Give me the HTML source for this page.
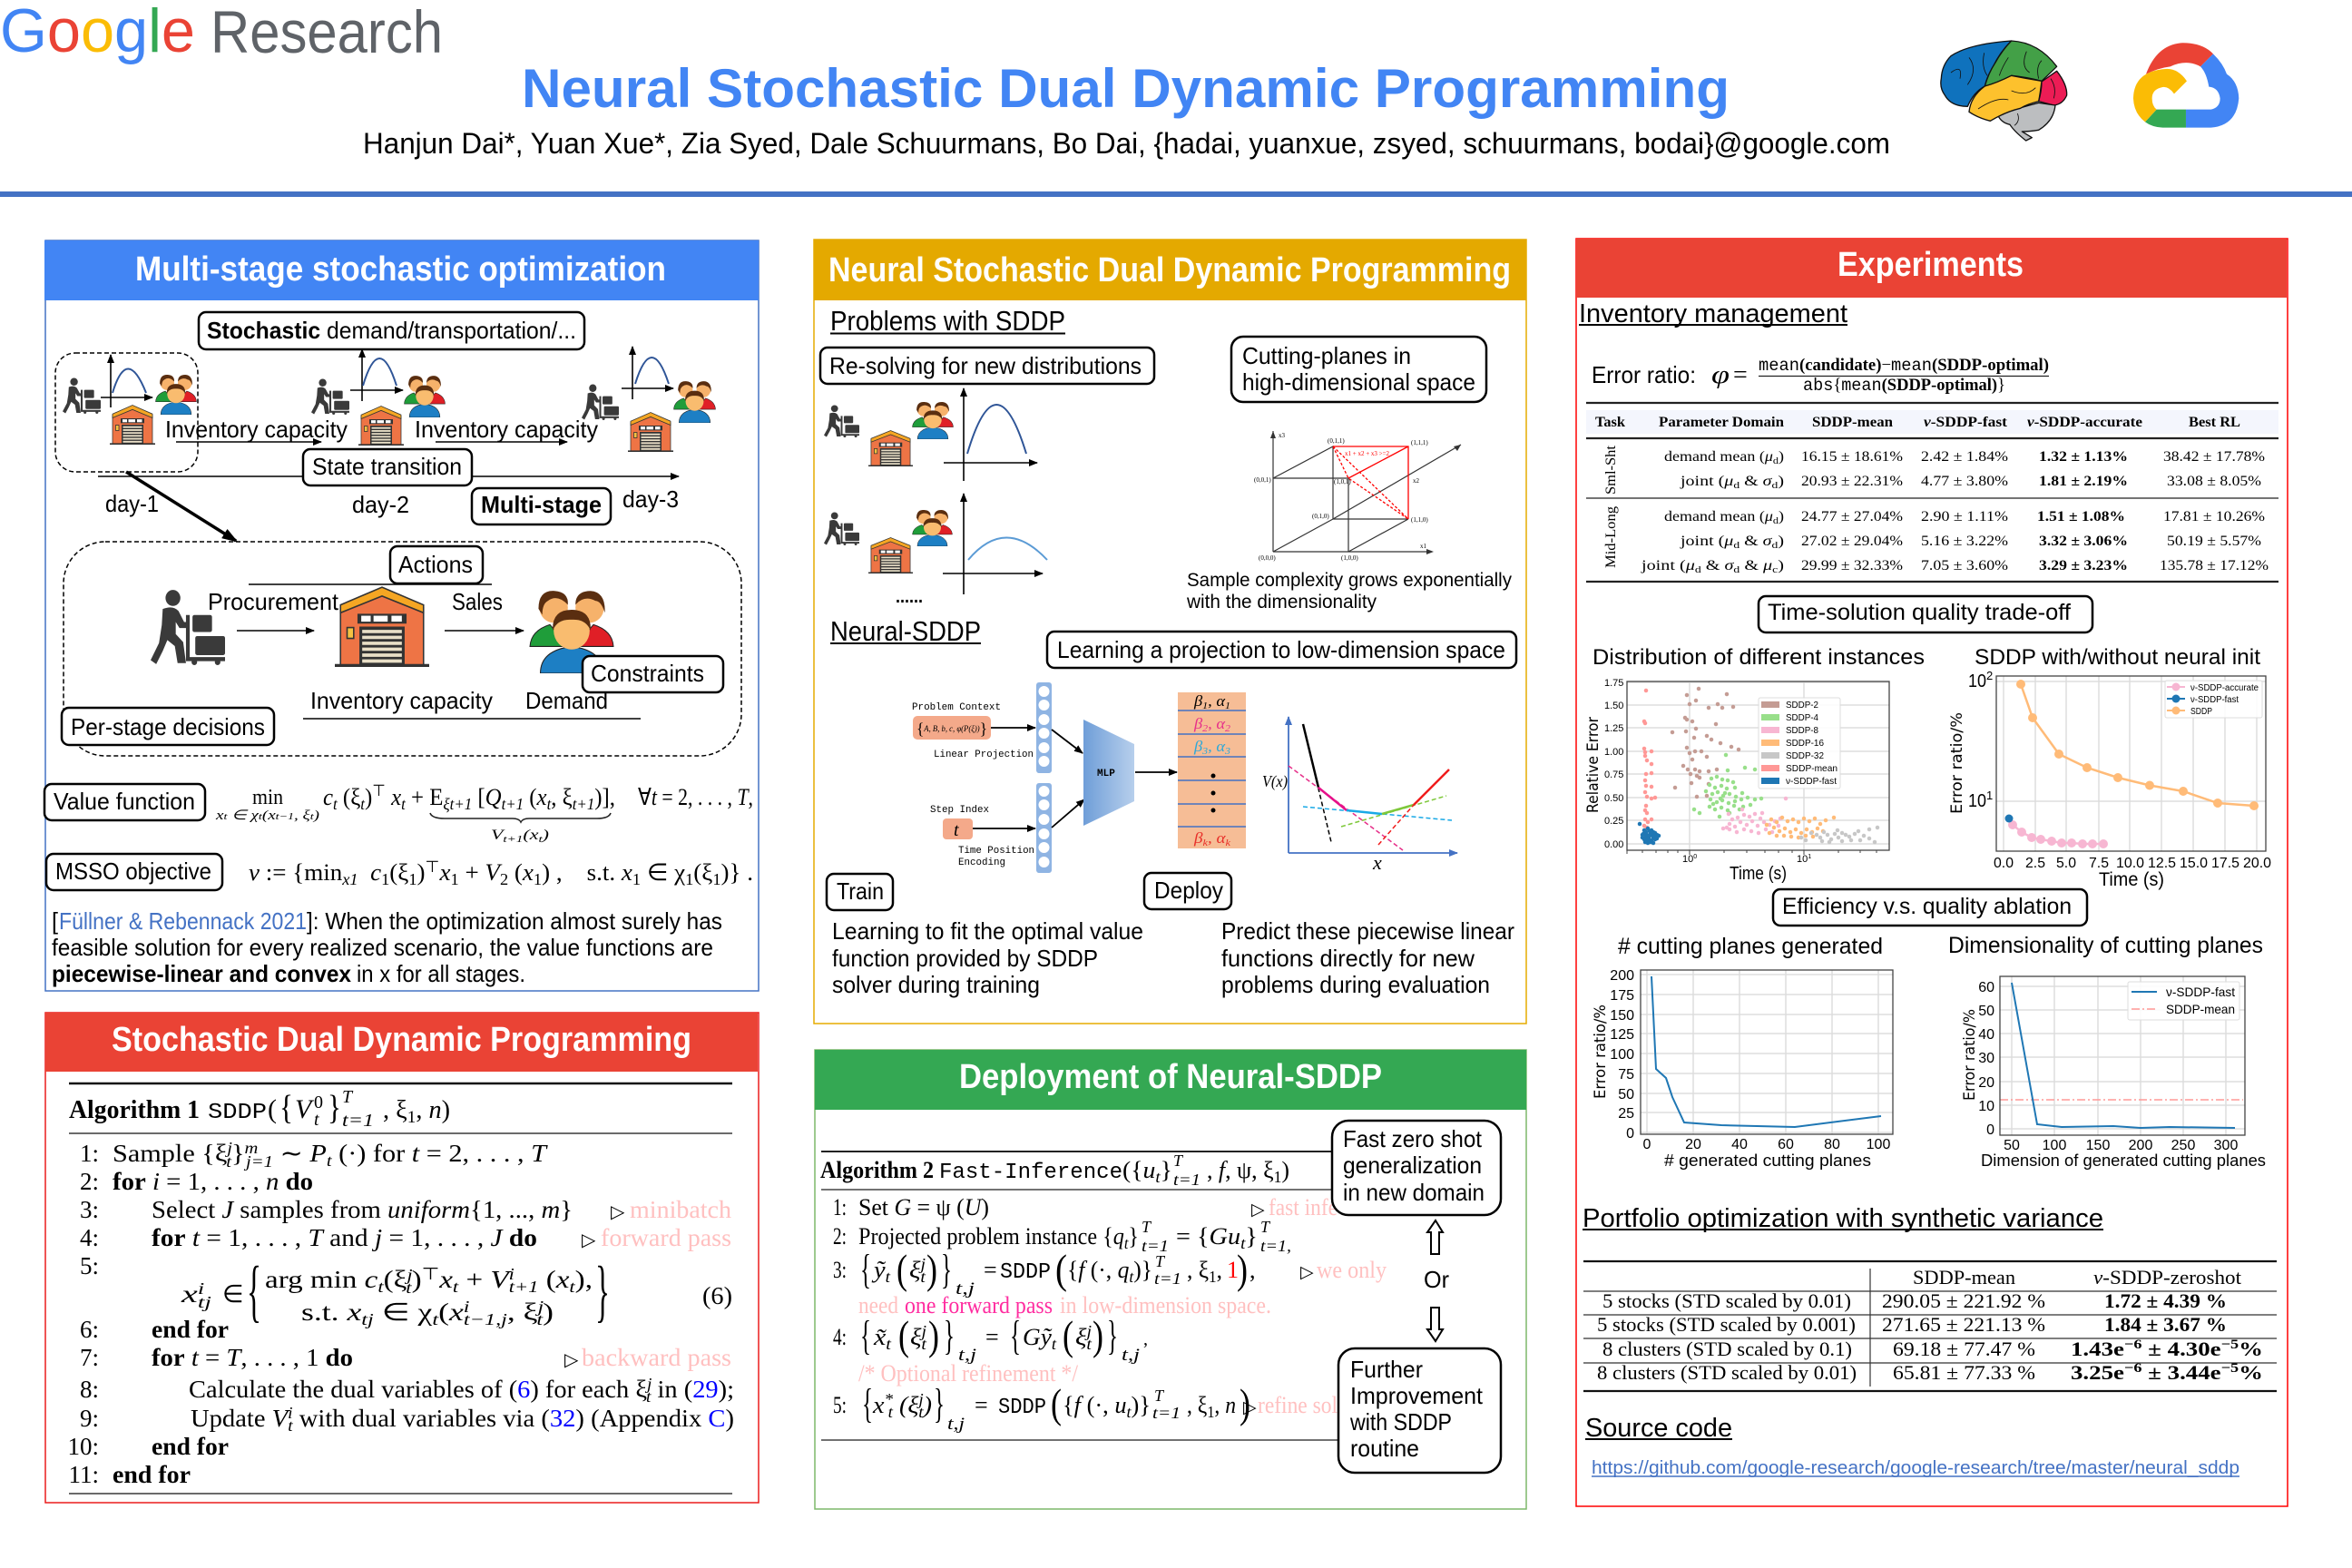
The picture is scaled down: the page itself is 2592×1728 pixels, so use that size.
<!DOCTYPE html>
<html><head><meta charset="utf-8"><title>Neural Stochastic Dual Dynamic Programming</title>
<style>
html,body{margin:0;padding:0;background:#fff}
svg{display:block;font-size:27px}
text{font-family:"Liberation Sans",sans-serif;fill:#000;white-space:pre}
.t{font-size:26px}
.h{font-weight:bold;fill:#fff;font-size:38px}
.r,.r text{font-family:"Liberation Serif",serif}
.a{font-family:"Liberation Serif",serif}
.b{font-weight:bold}
.i{font-style:italic}
.m{font-family:"Liberation Mono",monospace}
.u{font-size:.68em}
.p{fill:#ffc0c0}
.bx{fill:#fff;stroke:#000;stroke-width:2.5}
.l{stroke:#000;stroke-width:1.6;fill:none}
.g{stroke:#ddd;stroke-width:1.5}
.d{font-size:7px;font-family:"Liberation Serif",serif}
.cap{font-size:24.5px}
.ax{font-size:17px;font-family:"DejaVu Sans",sans-serif}
.tb{font-family:"Liberation Serif",serif;font-size:16px}
.tc{font-family:"Liberation Serif",serif;font-size:22px}
</style></head><body>
<svg xmlns="http://www.w3.org/2000/svg" width="2592" height="1728" viewBox="0 0 2592 1728">
<defs>
<marker id="a" markerWidth="10" markerHeight="8" refX="9" refY="4" orient="auto" markerUnits="userSpaceOnUse"><path d="M0 0L10 4L0 8z" fill="#000"/></marker>
<marker id="ab" markerWidth="18" markerHeight="12" refX="15" refY="6" orient="auto" markerUnits="userSpaceOnUse"><path d="M0 0L18 6L0 12z" fill="#000"/></marker>
<marker id="ac" markerWidth="10" markerHeight="8" refX="9" refY="4" orient="auto" markerUnits="userSpaceOnUse"><path d="M0 0L10 4L0 8z" fill="#4472c4"/></marker>
<linearGradient id="mlp" x1="0" x2="1" y1="0" y2="0"><stop offset="0" stop-color="#6f9ed8"/><stop offset="1" stop-color="#b7cfec"/></linearGradient>
<symbol id="wk" viewBox="0 0 80 76" preserveAspectRatio="none"><g fill="#3a3a3a"><circle cx="24" cy="9" r="8"/><path d="M13 20Q24 16 30 22L36 33H40V39H31L27 33V45L35 53L38 74H29L26 57L18 51L13 62L6 75L0 71L9 54L12 36z"/><rect x="45" y="26" width="21" height="17" rx="2"/><rect x="48" y="47" width="32" height="19" rx="2"/><path d="M38 26H42V68H80V72H38z"/><circle cx="47" cy="73" r="3"/><circle cx="72" cy="73" r="3"/></g></symbol>
<symbol id="wh" viewBox="0 0 100 82" preserveAspectRatio="none"><path d="M6 22L50 6L94 22V80H6z" fill="#ee7445" stroke="#333" stroke-width="1.5"/><path d="M6 19L50 1L94 19V27L50 10L6 27z" fill="#f5a623" stroke="#333" stroke-width="1.5"/><rect x="24" y="28" width="52" height="10" fill="#333"/><rect x="28" y="30" width="10" height="6" fill="#fff"/><rect x="41" y="30" width="15" height="6" fill="#fff"/><rect x="60" y="30" width="11" height="6" fill="#fff"/><rect x="26" y="41" width="48" height="39" fill="#333"/><path d="M29 46H71M29 52H71M29 58H71M29 64H71M29 70H71M29 76H71" stroke="#e9dfc7" stroke-width="3.4"/><rect x="13" y="42" width="7" height="11" fill="#f5c242" stroke="#333" stroke-width="1.5"/><rect x="0" y="79" width="100" height="3" fill="#333"/></symbol>
<symbol id="pp" viewBox="0 0 90 85" preserveAspectRatio="none"><path d="M1 58Q2 42 22 36L42 58z" fill="#1f9d3a" stroke="#222"/><path d="M89 58Q88 42 68 36L48 58z" fill="#e01f26" stroke="#222"/><circle cx="26" cy="19" r="15" fill="#f6b26b"/><path d="M10 20Q10 1 27 2Q42 3 41 16Q30 5 20 12Q14 15 14 26z" fill="#5a2e10"/><circle cx="64" cy="19" r="15" fill="#f6b26b"/><path d="M49 16Q49 2 65 2Q81 3 80 24Q76 12 70 12Q58 6 49 16z" fill="#5a2e10"/><path d="M12 85Q12 62 45 58Q78 62 78 85z" fill="#1d7fc4" stroke="#222"/><circle cx="45" cy="42" r="19" fill="#f9bc6f"/><path d="M25 42Q24 21 45 21Q66 21 65 42Q60 30 45 31Q30 30 25 42z" fill="#5a2e10"/></symbol>
</defs>

<!-- header -->
<text x="0" y="57" font-size="68" textLength="215"><tspan fill="#4285f4">G</tspan><tspan fill="#ea4335">o</tspan><tspan fill="#fbbc05">o</tspan><tspan fill="#4285f4">g</tspan><tspan fill="#34a853">l</tspan><tspan fill="#ea4335">e</tspan></text>
<text x="232" y="58" font-size="66" textLength="256" style="fill:#5f6368">Research</text>
<text x="575" y="118" font-size="60" class="b" textLength="1331" style="fill:#4285f4">Neural Stochastic Dual Dynamic Programming</text>
<text x="400" y="169" font-size="32" textLength="1683">Hanjun Dai*, Yuan Xue*, Zia Syed, Dale Schuurmans, Bo Dai, {hadai, yuanxue, zsyed, schuurmans, bodai}@google.com</text>
<rect x="0" y="211" width="2592" height="6" fill="#4472c4"/>
<g transform="translate(2100,30) scale(.3333)" stroke="#111" stroke-width="4" stroke-linejoin="round">
<path d="M118 170Q120 125 150 95Q210 55 350 45Q310 85 290 130Q270 160 262 195Q225 215 205 262Q150 262 130 225Q112 200 118 170Z" fill="#0f72bd"/>
<path d="M350 45Q440 50 500 130Q480 150 450 178Q400 165 350 160Q300 185 262 195Q275 150 295 120Q320 75 350 45Z" fill="#43a047"/>
<path d="M500 145Q535 190 533 225Q520 255 490 258L440 245Q450 210 450 180Z" fill="#ec1c55"/>
<path d="M305 290Q380 265 440 250L495 258Q490 310 440 340Q410 345 385 345L418 365L398 375Q360 345 345 322Q315 315 305 290Z" fill="#bcbec0"/>
<path d="M262 195Q300 185 350 160Q400 170 450 178Q445 220 440 245Q400 255 380 268Q330 280 280 310Q240 300 210 280Q215 230 262 195Z" fill="#fdc12d"/>
<path d="M150 150Q190 120 180 170M210 100Q240 140 205 190M260 85Q250 130 270 160M340 100Q320 130 310 160M400 80Q380 130 410 150M450 110Q430 130 440 170M480 170Q500 200 490 235M240 270Q300 230 340 240M350 210Q400 230 430 200M370 285Q380 310 360 325" fill="none" stroke-width="2.5"/>
</g>
<g transform="translate(2100,30) scale(.3333)">
<path d="M795 155Q830 60 910 52Q980 50 1017 88L975 130Q930 105 875 130Q835 135 795 155Z" fill="#ea4335"/>
<path d="M1017 88Q1050 120 1062 155Q1100 180 1102 235Q1095 325 1010 332H927V272H1010Q1040 265 1040 235Q1035 200 1003 197Q995 150 975 130Z" fill="#4285f4"/>
<path d="M830 272H927V332H850Q815 330 792 313Z" fill="#34a853"/>
<path d="M860 138Q900 135 930 178L888 220Q870 195 850 198Q815 205 815 235Q815 260 830 272L792 313Q755 285 753 235Q755 145 860 138Z" fill="#fbbc05"/>
</g>

<!-- PANEL 1 -->
<rect x="50" y="265" width="786" height="827" fill="none" stroke="#4472c4" stroke-width="1.5"/>
<rect x="49" y="265" width="787" height="66" fill="#4285f4"/>
<text x="149" y="309" class="h" textLength="585">Multi-stage stochastic optimization</text>
<rect x="61" y="389" width="157" height="131" rx="22" fill="none" stroke="#000" stroke-width="1.5" stroke-dasharray="5 3"/>
<rect x="70" y="597" width="747" height="236" rx="46" fill="none" stroke="#000" stroke-width="1.5" stroke-dasharray="5 3"/>

<use href="#wk" x="69" y="416" width="42" height="40"/><use href="#wh" x="121" y="446" width="50" height="44"/><use href="#pp" x="171" y="412" width="46" height="45"/>
<path class="l" d="M122 449V391" marker-end="url(#a)"/><path class="l" d="M111 438H168" marker-end="url(#a)"/><path d="M124 433Q140 380 161 433" fill="none" stroke="#2f5597" stroke-width="2"/>
<use href="#wk" x="343" y="417" width="42" height="40"/><use href="#wh" x="395" y="447" width="50" height="44"/><use href="#pp" x="445" y="413" width="46" height="47"/>
<path class="l" d="M399 442V385" marker-end="url(#a)"/><path class="l" d="M386 430H444" marker-end="url(#a)"/><path d="M400 425Q418 365 437 425" fill="none" stroke="#2f5597" stroke-width="2"/>
<use href="#wk" x="641" y="423" width="41" height="40"/><use href="#wh" x="692" y="454" width="50" height="44"/><use href="#pp" x="742" y="419" width="47" height="47"/>
<path class="l" d="M697 440V382" marker-end="url(#a)"/><path class="l" d="M685 428H742" marker-end="url(#a)"/><path d="M700 423Q718 365 737 423" fill="none" stroke="#2f5597" stroke-width="2"/>

<rect class="bx" x="219" y="344" width="425" height="41" rx="8"/>
<text class="t" x="228" y="373" textLength="407"><tspan class="b">Stochastic</tspan> demand/transportation/...</text>
<text class="t" x="182" y="482" textLength="201">Inventory capacity</text><path class="l" d="M194 487H354" marker-end="url(#a)"/>
<text class="t" x="457" y="482" textLength="202">Inventory capacity</text><path class="l" d="M480 487H625" marker-end="url(#a)"/>
<path class="l" d="M108 525H334"/><path class="l" d="M520 525H748" marker-end="url(#a)"/>
<rect class="bx" x="334" y="495" width="186" height="40" rx="8"/><text class="t" x="344" y="523" textLength="165">State transition</text>
<text class="t" x="116" y="564" textLength="59">day-1</text><text class="t" x="388" y="565" textLength="63">day-2</text><text class="t" x="686" y="559" textLength="62">day-3</text>
<rect class="bx" x="520" y="538" width="153" height="40" rx="8"/><text class="t b" x="530" y="565" textLength="133">Multi-stage</text>
<path d="M139 520L260 596" stroke="#000" stroke-width="3.5" marker-end="url(#ab)"/>

<use href="#wk" x="166" y="649" width="82" height="84"/><use href="#wh" x="369" y="646" width="104" height="89"/><use href="#pp" x="583" y="649" width="94" height="93"/>
<path class="l" d="M274 644H542"/>
<rect class="bx" x="430" y="602" width="102" height="41" rx="8"/><text class="t" x="439" y="631" textLength="82">Actions</text>
<text class="t" x="229" y="672" textLength="144">Procurement</text><text class="t" x="498" y="672" textLength="56">Sales</text>
<path class="l" d="M261 695H346" marker-end="url(#a)"/><path class="l" d="M490 695H577" marker-end="url(#a)"/>
<rect class="bx" x="642" y="723" width="155" height="40" rx="8"/><text class="t" x="651" y="751" textLength="125">Constraints</text>
<text class="t" x="342" y="781" textLength="201">Inventory capacity</text><text class="t" x="579" y="781" textLength="91">Demand</text>
<path class="l" d="M334 792H706"/>
<rect class="bx" x="68" y="780" width="234" height="41" rx="8"/><text class="t" x="78" y="810" textLength="214">Per-stage decisions</text>

<rect class="bx" x="49" y="864" width="177" height="40" rx="8"/><text class="t" x="59" y="892" textLength="156">Value function</text>
<text class="a" x="278" y="886" font-size="24" textLength="34">min</text>
<text class="a i" x="238" y="903" font-size="15" textLength="114">x<tspan font-size="11">t</tspan> ∈ χ<tspan font-size="11">t</tspan>(x<tspan font-size="11">t−1</tspan>, ξ<tspan font-size="11">t</tspan>)</text>
<text class="a" x="356" y="887" font-size="26" textLength="322"><tspan class="i">c<tspan class="u" dy="5">t</tspan></tspan><tspan dy="-5"> (ξ</tspan><tspan class="u i" dy="5">t</tspan><tspan dy="-5">)</tspan><tspan class="u" dy="-10">⊤</tspan><tspan class="i" dy="10"> x</tspan><tspan class="u i" dy="5">t</tspan><tspan dy="-5"> + E</tspan><tspan class="u i" dy="5">ξt+1</tspan><tspan dy="-5"> [</tspan><tspan class="i">Q</tspan><tspan class="u i" dy="5">t+1</tspan><tspan dy="-5"> (</tspan><tspan class="i">x</tspan><tspan class="u i" dy="5">t</tspan><tspan dy="-5">, ξ</tspan><tspan class="u i" dy="5">t+1</tspan><tspan dy="-5">)],</tspan></text>
<text class="a" x="703" y="887" font-size="26" textLength="127">∀<tspan class="i">t</tspan> = 2, . . . , <tspan class="i">T</tspan>,</text>
<path d="M474 896Q476 902 490 902H565Q572 902 574 906Q576 902 583 902H658Q671 902 673 896" fill="none" stroke="#222" stroke-width="1.6"/>
<text class="a i" x="541" y="925" font-size="16" textLength="64">V<tspan font-size="11" dy="3">t+1</tspan><tspan dy="-3">(x</tspan><tspan font-size="11" dy="3">t</tspan><tspan dy="-3">)</tspan></text>
<rect class="bx" x="51" y="941" width="194" height="40" rx="8"/><text class="t" x="61" y="969" textLength="172">MSSO objective</text>
<text class="a" x="274" y="970" font-size="26" textLength="556"><tspan class="i">v</tspan> := {min<tspan class="u i" dy="5">x1</tspan><tspan dy="-5">  </tspan><tspan class="i">c</tspan><tspan class="u" dy="5">1</tspan><tspan dy="-5">(ξ</tspan><tspan class="u" dy="5">1</tspan><tspan dy="-5">)</tspan><tspan class="u" dy="-9">⊤</tspan><tspan class="i" dy="9">x</tspan><tspan class="u" dy="5">1</tspan><tspan dy="-5"> + </tspan><tspan class="i">V</tspan><tspan class="u" dy="5">2</tspan><tspan dy="-5"> (</tspan><tspan class="i">x</tspan><tspan class="u" dy="5">1</tspan><tspan dy="-5">) ,    s.t. </tspan><tspan class="i">x</tspan><tspan class="u" dy="5">1</tspan><tspan dy="-5"> ∈ χ</tspan><tspan class="u" dy="5">1</tspan><tspan dy="-5">(ξ</tspan><tspan class="u" dy="5">1</tspan><tspan dy="-5">)} .</tspan></text>
<text class="t" x="57" y="1024" textLength="7">[</text><text class="t" x="65" y="1024" textLength="273" style="fill:#4472c4">Füllner &amp; Rebennack 2021</text><text class="t" x="338" y="1024" textLength="458">]: When the optimization almost surely has</text>
<text class="t" x="57" y="1053" textLength="729">feasible solution for every realized scenario, the value functions are</text>
<text class="t b" x="57" y="1082" textLength="330">piecewise-linear and convex</text><text class="t" x="393" y="1082" textLength="186">in x for all stages.</text>

<!-- PANEL 2 -->
<rect x="50" y="1116" width="786" height="540" fill="none" stroke="#ea1c1c" stroke-width="1.5"/>
<rect x="50" y="1116" width="785" height="65" fill="#ea4335"/>
<text x="123" y="1158" class="h" textLength="639">Stochastic Dual Dynamic Programming</text>
<path d="M76 1194H807" stroke="#111" stroke-width="2.5"/><path d="M76 1249H807M76 1646H807" stroke="#555" stroke-width="1.8"/>
<text class="a b" x="76" y="1232" font-size="29" textLength="144">Algorithm 1</text>
<text class="m" x="229" y="1232" font-size="24" textLength="65">SDDP</text>
<text class="a" x="295" y="1232" font-size="30">(</text><text class="a" x="308" y="1233" font-size="38" textLength="15">{</text><text class="a i" x="325" y="1232" font-size="30">V</text><text class="a i" x="346" y="1240" font-size="20">t</text><text class="a" x="346" y="1221" font-size="20">0</text><text class="a" x="361" y="1233" font-size="38" textLength="15">}</text><text class="a i" x="377" y="1215" font-size="20">T</text><text class="a i" x="377" y="1241" font-size="20" textLength="35">t=1</text><text class="a" x="422" y="1232" font-size="28" textLength="74">, ξ<tspan class="u" dy="5">1</tspan><tspan dy="-5">, </tspan><tspan class="i">n</tspan>)</text>

<g class="a" text-anchor="end"><text class="a" x="109" y="1280">1:</text><text class="a" x="109" y="1311">2:</text><text class="a" x="109" y="1342">3:</text><text class="a" x="109" y="1373">4:</text><text class="a" x="109" y="1404">5:</text><text class="a" x="109" y="1474">6:</text><text class="a" x="109" y="1505">7:</text><text class="a" x="109" y="1540">8:</text><text class="a" x="109" y="1572">9:</text><text class="a" x="109" y="1603">10:</text><text class="a" x="109" y="1634">11:</text></g>
<text class="a" x="124" y="1280" textLength="478">Sample {ξ<tspan class="u i" dy="-9">j</tspan><tspan class="u i" dy="15" dx="-6">t</tspan><tspan dy="-6">}</tspan><tspan class="u i" dy="-9">m</tspan><tspan class="u i" dy="15" dx="-12">j=1</tspan><tspan dy="-6"> ∼ </tspan><tspan class="i">P</tspan><tspan class="u i" dy="5">t</tspan><tspan dy="-5"> (·) for </tspan><tspan class="i">t</tspan> = 2, . . . , <tspan class="i">T</tspan></text>
<text class="a" x="124" y="1311" textLength="221"><tspan class="b">for</tspan> <tspan class="i">i</tspan> = 1, . . . , <tspan class="i">n</tspan> <tspan class="b">do</tspan></text>
<text class="a" x="167" y="1342" textLength="464">Select <tspan class="i">J</tspan> samples from <tspan class="i">uniform</tspan>{1, ..., <tspan class="i">m</tspan>}</text>
<text class="a" x="673" y="1342" font-size="20">▷</text><text class="a" x="694" y="1342" textLength="112" style="fill:#ffc0c0">minibatch</text>
<text class="a" x="167" y="1373" textLength="425"><tspan class="b">for</tspan> <tspan class="i">t</tspan> = 1, . . . , <tspan class="i">T</tspan> and <tspan class="i">j</tspan> = 1, . . . , <tspan class="i">J</tspan> <tspan class="b">do</tspan></text>
<text class="a" x="641" y="1373" font-size="20">▷</text><text class="a" x="662" y="1373" textLength="144" style="fill:#ffc0c0">forward pass</text>
<text class="a i" x="200" y="1435" textLength="33">x<tspan class="u" dy="-9">i</tspan><tspan class="u" dy="15" dx="-5">tj</tspan></text><text class="a" x="245" y="1435">∈</text>
<text class="a" x="272" y="1448" font-size="76" textLength="16">{</text>
<text class="a" x="292" y="1419" textLength="361">arg min <tspan class="i">c</tspan><tspan class="u i" dy="5">t</tspan><tspan dy="-5">(ξ</tspan><tspan class="u i" dy="-8">j</tspan><tspan class="u i" dy="14" dx="-6">t</tspan><tspan dy="-6">)</tspan><tspan class="u" dy="-9">⊤</tspan><tspan class="i" dy="9">x</tspan><tspan class="u i" dy="5">t</tspan><tspan dy="-5"> + </tspan><tspan class="i">V</tspan><tspan class="u i" dy="-9">i</tspan><tspan class="u i" dy="14" dx="-5">t+1</tspan><tspan dy="-5"> (</tspan><tspan class="i">x</tspan><tspan class="u i" dy="5">t</tspan><tspan dy="-5">),</tspan></text>
<text class="a" x="332" y="1455" textLength="278">s.t. <tspan class="i">x</tspan><tspan class="u i" dy="5">tj</tspan><tspan dy="-5"> ∈ χ</tspan><tspan class="u i" dy="5">t</tspan><tspan dy="-5">(</tspan><tspan class="i">x</tspan><tspan class="u i" dy="-9">i</tspan><tspan class="u i" dy="14" dx="-5">t−1,j</tspan><tspan dy="-5">, ξ</tspan><tspan class="u i" dy="-9">j</tspan><tspan class="u i" dy="14" dx="-6">t</tspan><tspan dy="-5">)</tspan></text>
<text class="a" x="656" y="1448" font-size="76" textLength="16">}</text>
<text class="a" x="774" y="1437" textLength="33">(6)</text>
<text class="a b" x="167" y="1474" textLength="85">end for</text>
<text class="a" x="167" y="1505" textLength="222"><tspan class="b">for</tspan> <tspan class="i">t</tspan> = <tspan class="i">T</tspan>, . . . , 1 <tspan class="b">do</tspan></text>
<text class="a" x="622" y="1505" font-size="20">▷</text><text class="a" x="641" y="1505" textLength="165" style="fill:#ffc0c0">backward pass</text>
<text class="a" x="208" y="1540" textLength="601">Calculate the dual variables of (<tspan style="fill:#00f">6</tspan>) for each ξ<tspan class="u i" dy="-9">j</tspan><tspan class="u i" dy="14" dx="-6">t</tspan><tspan dy="-5"> in (</tspan><tspan style="fill:#00f">29</tspan>);</text>
<text class="a" x="210" y="1572" textLength="599">Update <tspan class="i">V</tspan><tspan class="u i" dy="-9">i</tspan><tspan class="u i" dy="14" dx="-5">t</tspan><tspan dy="-5"> with dual variables via (</tspan><tspan style="fill:#00f">32</tspan>) (Appendix <tspan style="fill:#00f">C</tspan>)</text>
<text class="a b" x="167" y="1603" textLength="85">end for</text>
<text class="a b" x="124" y="1634" textLength="86">end for</text>

<!-- PANEL 3 -->
<rect x="897" y="264" width="785" height="864" fill="none" stroke="#e6ac00" stroke-width="1.5"/>
<rect x="897" y="264" width="785" height="67" fill="#e4a900"/>
<text x="913" y="310" class="h" textLength="752">Neural Stochastic Dual Dynamic Programming</text>
<text x="915" y="364" font-size="31" textLength="259">Problems with SDDP</text><path d="M915 367.500H1174" stroke="#000" stroke-width="2"/>
<rect class="bx" x="904" y="383" width="368" height="40" rx="8"/><text class="t" x="914" y="412" textLength="344">Re-solving for new distributions</text>
<rect class="bx" x="1357" y="371" width="281" height="72" rx="13"/><text class="t" x="1369" y="401" textLength="186">Cutting-planes in</text><text class="t" x="1369" y="430" textLength="257">high-dimensional space</text>
<use href="#wk" x="908" y="446" width="39" height="36"/><use href="#pp" x="1005" y="442" width="46" height="42"/><use href="#wh" x="957" y="474" width="49" height="40"/>
<path class="l" d="M1062 530V428" marker-end="url(#a)"/><path class="l" d="M1040 510H1143" marker-end="url(#a)"/><path d="M1066 500Q1098 392 1131 500" fill="none" stroke="#2f5597" stroke-width="2"/>
<use href="#wk" x="908" y="564" width="39" height="37"/><use href="#pp" x="1005" y="561" width="45" height="41"/><use href="#wh" x="957" y="592" width="49" height="40"/>
<path class="l" d="M1062 655V544" marker-end="url(#a)"/><path class="l" d="M1039 632H1149" marker-end="url(#a)"/><path d="M1067 617Q1108 568 1154 617" fill="none" stroke="#5b9bd5" stroke-width="2"/>
<text x="987" y="664" font-size="20" class="b" textLength="30">......</text>

<g fill="none" stroke="#333" stroke-width="1.2"><path d="M1403 608V475M1403 608H1576M1403 527H1486V608M1403 527L1469 492V572H1552M1486 608L1552 572M1469 572L1403 608M1469 572L1610 490"/></g>
<path d="M1403 475l-3 8h6z" fill="#333"/><path d="M1580 608l-8-3v6z" fill="#333"/><path d="M1610 490l-8 2 4 5z" fill="#333"/>
<g fill="none" stroke="#f00" stroke-width="1.3"><path d="M1469 492H1552V572M1486 527L1552 492"/><path d="M1469 492L1486 527L1552 572M1469 492L1552 572" stroke-dasharray="3 2"/></g>
<g class="d"><text class="d" x="1409" y="482">x3</text><text class="d" x="1463" y="488">(0,1,1)</text><text class="d" x="1555" y="490">(1,1,1)</text><text class="d" x="1382" y="531">(0,0,1)</text><text class="d" x="1470" y="533">(1,0,1)</text><text class="d" x="1446" y="571">(0,1,0)</text><text class="d" x="1555" y="575">(1,1,0)</text><text class="d" x="1387" y="617">(0,0,0)</text><text class="d" x="1478" y="617">(1,0,0)</text><text class="d" x="1565" y="604">x1</text><text class="d" x="1557" y="532">x2</text><text class="d" x="1482" y="502" style="fill:#f00">x1 + x2 + x3 &gt;=2</text></g>
<text x="1308" y="646" font-size="21" textLength="358">Sample complexity grows exponentially</text><text x="1308" y="670" font-size="21" textLength="209">with the dimensionality</text>
<text x="915" y="706" font-size="31" textLength="166">Neural-SDDP</text><path d="M915 709H1081" stroke="#000" stroke-width="2"/>
<rect class="bx" x="1154" y="696" width="517" height="40" rx="8"/><text class="t" x="1165" y="725" textLength="494">Learning a projection to low-dimension space</text>

<g class="m"><text class="m" font-size="11" x="1005" y="782" textLength="98">Problem Context</text><text class="m" font-size="11" x="1029" y="834" textLength="110">Linear Projection</text><text class="m" font-size="11" x="1025" y="895" textLength="65">Step Index</text><text class="m" font-size="11" x="1056" y="940" textLength="84">Time Position</text><text class="m" font-size="11" x="1056" y="953" textLength="52">Encoding</text></g>
<rect x="1006" y="789" width="86" height="26" rx="5" fill="#f4a98a"/>
<text class="a" x="1010" y="809" font-size="18" textLength="78">{<tspan class="i" font-size="9" dy="-3">A, B, b, c, φ(P(ξ))</tspan><tspan dy="3">}</tspan></text>
<path d="M1092 802H1141" stroke="#000" stroke-width="1.8" marker-end="url(#a)"/>
<rect x="1142" y="752" width="17" height="100" rx="3" fill="#8fb4e3"/><rect x="1142" y="863" width="17" height="99" rx="3" fill="#8fb4e3"/>
<g fill="#fff"><circle cx="1150.500" cy="762" r="6"/><circle cx="1150.500" cy="777" r="6"/><circle cx="1150.500" cy="793" r="6"/><circle cx="1150.500" cy="808" r="6"/><circle cx="1150.500" cy="824" r="6"/><circle cx="1150.500" cy="839" r="6"/><circle cx="1150.500" cy="872" r="6"/><circle cx="1150.500" cy="887" r="6"/><circle cx="1150.500" cy="903" r="6"/><circle cx="1150.500" cy="919" r="6"/><circle cx="1150.500" cy="934" r="6"/><circle cx="1150.500" cy="950" r="6"/></g>
<rect x="1039" y="902" width="33" height="23" rx="4" fill="#f4a98a"/><text class="a i" x="1051" y="921" font-size="20">t</text>
<path d="M1072 913H1141" stroke="#000" stroke-width="1.8" marker-end="url(#a)"/>
<path d="M1159 804L1193 830" stroke="#000" stroke-width="1.8" marker-end="url(#a)"/><path d="M1159 912L1195 881" stroke="#000" stroke-width="1.8" marker-end="url(#a)"/>
<path d="M1194 793L1250 820V883L1194 910z" fill="url(#mlp)"/><text class="m b" x="1209" y="855" font-size="11">MLP</text>
<path d="M1251 851H1297" stroke="#000" stroke-width="1.8" marker-end="url(#a)"/>
<rect x="1298" y="763" width="75" height="172" fill="#f6bd96"/>
<path d="M1298 783H1373M1298 809H1373M1298 834H1373M1298 860H1373M1298 886H1373M1298 911H1373" stroke="#4472c4" stroke-width="1.5"/>
<text class="a i" x="1316" y="778" font-size="17" textLength="40">β<tspan font-size="11" dy="3">1</tspan><tspan dy="-3">, α</tspan><tspan font-size="11" dy="3">1</tspan></text>
<text class="a i" x="1316" y="803" font-size="17" textLength="40" style="fill:#e6308a">β<tspan font-size="11" dy="3">2</tspan><tspan dy="-3">, α</tspan><tspan font-size="11" dy="3">2</tspan></text>
<text class="a i" x="1316" y="828" font-size="17" textLength="40" style="fill:#2ea8d8">β<tspan font-size="11" dy="3">3</tspan><tspan dy="-3">, α</tspan><tspan font-size="11" dy="3">3</tspan></text>
<circle cx="1337" cy="855" r="2.500"/><circle cx="1337" cy="874" r="2.500"/><circle cx="1337" cy="893" r="2.500"/>
<text class="a i" x="1316" y="929" font-size="17" textLength="40" style="fill:#e8302a">β<tspan font-size="11" dy="3">k</tspan><tspan dy="-3">, α</tspan><tspan font-size="11" dy="3">k</tspan></text>
<path d="M1420 940V790" stroke="#4472c4" stroke-width="1.8" marker-end="url(#ac)"/><path d="M1420 940H1606" stroke="#4472c4" stroke-width="1.8" marker-end="url(#ac)"/>
<text class="a i" x="1391" y="867" font-size="18" textLength="28">V(x)</text><text class="a i" x="1513" y="958" font-size="22">x</text>
<g fill="none" stroke-width="1.5">
<path d="M1436 798L1467.500 930" stroke="#000" stroke-dasharray="5 3"/><path d="M1436 798L1453 868" stroke="#000" stroke-width="2.500"/>
<path d="M1420 844L1546 937" stroke="#e6308a" stroke-dasharray="5 3"/><path d="M1453 868L1484 893" stroke="#e6108a" stroke-width="2.500"/>
<path d="M1436 889L1600 904" stroke="#19a9e6" stroke-dasharray="5 3"/><path d="M1484 893L1523 897" stroke="#19a9e6" stroke-width="2.500"/>
<path d="M1478 911L1594 877" stroke="#7ec83a" stroke-dasharray="5 3"/><path d="M1523 897L1558 887" stroke="#7ec83a" stroke-width="2.500"/>
<path d="M1519 931L1558 887" stroke="#f01c1c" stroke-dasharray="5 3"/><path d="M1558 887L1597 848" stroke="#f01c1c" stroke-width="2.500"/>
</g>
<rect class="bx" x="911" y="963" width="73" height="40" rx="8"/><text class="t" x="922" y="991" textLength="52">Train</text>
<rect class="bx" x="1261" y="962" width="96" height="40" rx="8"/><text class="t" x="1272" y="990" textLength="76">Deploy</text>
<text class="t" x="917" y="1035" textLength="343">Learning to fit the optimal value</text><text class="t" x="917" y="1065" textLength="293">function provided by SDDP</text><text class="t" x="917" y="1094" textLength="229">solver during training</text>
<text class="t" x="1346" y="1035" textLength="323">Predict these piecewise linear</text><text class="t" x="1346" y="1065" textLength="279">functions directly for new</text><text class="t" x="1346" y="1094" textLength="296">problems during evaluation</text>

<!-- PANEL 4 -->
<rect x="898" y="1157" width="784" height="506" fill="none" stroke="#7db96a" stroke-width="1.5"/>
<rect x="898" y="1157" width="784" height="66" fill="#34a853"/>
<text x="1057" y="1199" class="h" textLength="466">Deployment of Neural-SDDP</text>
<path d="M905 1269H1470" stroke="#222" stroke-width="2"/><path d="M905 1311H1470M905 1587H1476" stroke="#444" stroke-width="1.5"/>
<text class="a b" x="904" y="1298" font-size="26" textLength="125">Algorithm 2</text>
<text class="m" x="1035" y="1298" font-size="24" textLength="202">Fast-Inference</text>
<text class="a" x="1237" y="1298" font-size="26" textLength="55">({<tspan class="i">u</tspan><tspan class="u i" dy="5">t</tspan><tspan dy="-5">}</tspan></text><text class="a i" x="1293" y="1285" font-size="18">T</text><text class="a i" x="1293" y="1306" font-size="18" textLength="30">t=1</text>
<text class="a" x="1330" y="1298" font-size="26" textLength="91">, <tspan class="i">f</tspan>, ψ, ξ<tspan class="u" dy="5">1</tspan><tspan dy="-5">)</tspan></text>

<text class="a" x="918" y="1339" font-size="26" textLength="15">1:</text><text class="a" x="946" y="1339" font-size="26" textLength="144">Set <tspan class="i">G</tspan> = ψ (<tspan class="i">U</tspan>)</text>
<text class="a" x="1379" y="1339" font-size="19">▷</text><text class="a" x="1398" y="1339" font-size="26" textLength="76" style="fill:#ffc0c0">fast infe</text>
<text class="a" x="918" y="1371" font-size="26" textLength="15">2:</text><text class="a" x="946" y="1371" font-size="26" textLength="309">Projected problem instance {<tspan class="i">q</tspan><tspan class="u i" dy="5">t</tspan><tspan dy="-5">}</tspan></text>
<text class="a i" x="1258" y="1358" font-size="18">T</text><text class="a i" x="1258" y="1379" font-size="18" textLength="30">t=1</text><text class="a" x="1296" y="1371" font-size="26" textLength="90">= {<tspan class="i">Gu</tspan><tspan class="u i" dy="5">t</tspan><tspan dy="-5">}</tspan></text><text class="a i" x="1389" y="1358" font-size="18">T</text><text class="a i" x="1389" y="1379" font-size="18" textLength="34">t=1,</text>

<text class="a" x="918" y="1408" font-size="26" textLength="15">3:</text>
<text class="a" x="948" y="1414" font-size="46" textLength="12">{</text><text class="a i" x="963" y="1408" font-size="26" textLength="18">ỹ<tspan class="u" dy="5">t</tspan></text><text class="a" x="988" y="1414" font-size="46" textLength="12">(</text><text class="a i" x="1002" y="1408" font-size="26" textLength="18">ξ<tspan class="u" dy="-9">j</tspan><tspan class="u" dy="14" dx="-5">t</tspan></text><text class="a" x="1021" y="1414" font-size="46" textLength="12">)</text><text class="a" x="1037" y="1414" font-size="46" textLength="12">}</text><text class="a i" x="1053" y="1426" font-size="19" textLength="21">t,j</text>
<text class="a" x="1084" y="1408" font-size="26">=</text><text class="m" x="1102" y="1408" font-size="24" textLength="56">SDDP</text>
<text class="a" x="1163" y="1414" font-size="46" textLength="13">(</text><text class="a" x="1176" y="1408" font-size="26" textLength="94">{<tspan class="i">f</tspan> (·, <tspan class="i">q</tspan><tspan class="u i" dy="5">t</tspan><tspan dy="-5">)}</tspan></text><text class="a i" x="1273" y="1396" font-size="18">T</text><text class="a i" x="1272" y="1415" font-size="18" textLength="30">t=1</text>
<text class="a" x="1308" y="1408" font-size="26" textLength="39">, ξ<tspan class="u" dy="5">1</tspan><tspan dy="-5">,</tspan></text><text class="a" x="1352" y="1408" font-size="26" style="fill:#f00">1</text><text class="a" x="1363" y="1414" font-size="46" textLength="12">)</text><text class="a" x="1377" y="1408" font-size="26">,</text>
<text class="a" x="1433" y="1408" font-size="19">▷</text><text class="a" x="1451" y="1408" font-size="26" textLength="77" style="fill:#ffc0c0">we only</text>
<text class="a" x="946" y="1447" font-size="26" textLength="44" style="fill:#ffc0c0">need</text><text class="a" x="997" y="1447" font-size="26" textLength="163" style="fill:#ff2da0">one forward pass</text><text class="a" x="1168" y="1447" font-size="26" textLength="233" style="fill:#ffc0c0">in low-dimension space.</text>

<text class="a" x="918" y="1482" font-size="26" textLength="15">4:</text>
<text class="a" x="948" y="1487" font-size="46" textLength="12">{</text><text class="a i" x="963" y="1482" font-size="26" textLength="19">x̃<tspan class="u" dy="5">t</tspan></text><text class="a" x="990" y="1487" font-size="46" textLength="12">(</text><text class="a i" x="1003" y="1482" font-size="26" textLength="18">ξ<tspan class="u" dy="-9">j</tspan><tspan class="u" dy="14" dx="-5">t</tspan></text><text class="a" x="1023" y="1487" font-size="46" textLength="12">)</text><text class="a" x="1040" y="1487" font-size="46" textLength="12">}</text><text class="a i" x="1056" y="1499" font-size="19" textLength="20">t,j</text>
<text class="a" x="1086" y="1482" font-size="26">=</text><text class="a" x="1113" y="1487" font-size="46" textLength="12">{</text><text class="a i" x="1127" y="1482" font-size="26" textLength="37">Gỹ<tspan class="u" dy="5">t</tspan></text><text class="a" x="1171" y="1487" font-size="46" textLength="12">(</text><text class="a i" x="1185" y="1482" font-size="26" textLength="18">ξ<tspan class="u" dy="-9">j</tspan><tspan class="u" dy="14" dx="-5">t</tspan></text><text class="a" x="1204" y="1487" font-size="46" textLength="12">)</text><text class="a" x="1220" y="1487" font-size="46" textLength="12">}</text><text class="a i" x="1236" y="1499" font-size="19" textLength="20">t,j</text><text class="a" x="1260" y="1482" font-size="20">,</text>
<text class="a" x="946" y="1522" font-size="26" textLength="242" style="fill:#ffc0c0">/* Optional refinement */</text>
<text class="a" x="918" y="1557" font-size="26" textLength="15">5:</text>
<text class="a" x="950" y="1562" font-size="46" textLength="12">{</text><text class="a i" x="962" y="1557" font-size="26" textLength="65">x<tspan class="u" dy="-9">*</tspan><tspan class="u" dy="14" dx="-5">t</tspan><tspan dy="-5"> (ξ</tspan><tspan class="u" dy="-9">j</tspan><tspan class="u" dy="14" dx="-5">t</tspan><tspan dy="-5">)</tspan></text><text class="a" x="1029" y="1562" font-size="46" textLength="12">}</text><text class="a i" x="1044" y="1575" font-size="19" textLength="19">t,j</text>
<text class="a" x="1074" y="1557" font-size="26">=</text><text class="m" x="1100" y="1557" font-size="24" textLength="53">SDDP</text><text class="a" x="1158" y="1562" font-size="46" textLength="12">(</text><text class="a" x="1171" y="1557" font-size="26" textLength="97">{<tspan class="i">f</tspan> (·, <tspan class="i">u</tspan><tspan class="u i" dy="5">t</tspan><tspan dy="-5">)}</tspan></text><text class="a i" x="1272" y="1544" font-size="18">T</text><text class="a i" x="1270" y="1563" font-size="18" textLength="31">t=1</text><text class="a" x="1308" y="1557" font-size="26" textLength="54">, ξ<tspan class="u" dy="5">1</tspan><tspan dy="-5">, </tspan><tspan class="i">n</tspan></text><text class="a" x="1366" y="1562" font-size="46" textLength="12">)</text>
<text class="a" x="1370" y="1557" font-size="19">▷</text><text class="a" x="1386" y="1557" font-size="26" textLength="88" style="fill:#ffc0c0">refine sol</text>

<rect class="bx" x="1468" y="1235" width="186" height="104" rx="18"/>
<text class="t" x="1480" y="1264" textLength="153">Fast zero shot</text><text class="t" x="1480" y="1293" textLength="153">generalization</text><text class="t" x="1480" y="1323" textLength="156">in new domain</text>
<path d="M1582 1345L1590 1358H1586V1382H1577V1358H1573z" fill="#fff" stroke="#000" stroke-width="2"/>
<text class="t" x="1569" y="1419" textLength="28">Or</text>
<path d="M1582 1478L1590 1465H1586V1441H1577V1465H1573z" fill="#fff" stroke="#000" stroke-width="2"/>
<rect class="bx" x="1475" y="1486" width="179" height="137" rx="18"/>
<text class="t" x="1488" y="1518" textLength="80">Further</text><text class="t" x="1488" y="1547" textLength="146">Improvement</text><text class="t" x="1488" y="1576" textLength="112">with SDDP</text><text class="t" x="1488" y="1605" textLength="76">routine</text>

<!-- PANEL 5 -->
<rect x="1737" y="263" width="784" height="1397" fill="none" stroke="#f00" stroke-width="1.5"/>
<rect x="1737" y="263" width="783" height="65" fill="#ea4335"/>
<text x="2025" y="304" class="h" textLength="205">Experiments</text>
<text x="1740" y="355" font-size="29" textLength="296">Inventory management</text><path d="M1740 358H2036" stroke="#000" stroke-width="2"/>
<text class="t" x="1754" y="422" textLength="115">Error ratio:</text>
<text class="a i" x="1886" y="422" font-size="28" textLength="20">φ</text><text class="a" x="1910" y="422" font-size="28">=</text>
<text class="a" x="1938" y="408" font-size="19" textLength="320"><tspan class="m">mean</tspan><tspan class="b">(candidate)</tspan>−<tspan class="m">mean</tspan><tspan class="b">(SDDP-optimal)</tspan></text>
<path d="M1938 414.500H2258" stroke="#222" stroke-width="1.3"/>
<text class="a" x="1987" y="430" font-size="19" textLength="223"><tspan class="m">abs</tspan>{<tspan class="m">mean</tspan><tspan class="b">(SDDP-optimal)</tspan>}</text>
<rect x="1748" y="452" width="763" height="26" fill="#f4f6fd"/>
<path d="M1748 444H2511M1748 483H2511M1748 641H2511" stroke="#222" stroke-width="2.2"/><path d="M1748 549H2511" stroke="#222" stroke-width="1.3"/>
<g class="b"><text class="tb b" x="1758" y="470" textLength="33">Task</text><text class="tb b" x="1828" y="470" textLength="138">Parameter Domain</text><text class="tb b" x="1997" y="470" textLength="89">SDDP-mean</text><text class="tb b" x="2120" y="470" textLength="92"><tspan class="i">ν</tspan>-SDDP-fast</text><text class="tb b" x="2234" y="470" textLength="127"><tspan class="i">ν</tspan>-SDDP-accurate</text><text class="tb b" x="2412" y="470" textLength="57">Best RL</text></g>
<text class="tb" transform="translate(1780,545) rotate(-90)" textLength="54">Sml-Sht</text><text class="tb" transform="translate(1780,626) rotate(-90)" textLength="68">Mid-Long</text>
<text class="tb" x="1834" y="508" textLength="132">demand mean (<tspan class="i">μ</tspan><tspan class="u" dy="3">d</tspan><tspan dy="-3">)</tspan></text><text class="tb" x="1852" y="535" textLength="114">joint (<tspan class="i">μ</tspan><tspan class="u" dy="3">d</tspan><tspan dy="-3"> &amp; </tspan><tspan class="i">σ</tspan><tspan class="u" dy="3">d</tspan><tspan dy="-3">)</tspan></text>
<text class="tb" x="1834" y="574" textLength="132">demand mean (<tspan class="i">μ</tspan><tspan class="u" dy="3">d</tspan><tspan dy="-3">)</tspan></text><text class="tb" x="1852" y="601" textLength="114">joint (<tspan class="i">μ</tspan><tspan class="u" dy="3">d</tspan><tspan dy="-3"> &amp; </tspan><tspan class="i">σ</tspan><tspan class="u" dy="3">d</tspan><tspan dy="-3">)</tspan></text>
<text class="tb" x="1809" y="628" textLength="157">joint (<tspan class="i">μ</tspan><tspan class="u" dy="3">d</tspan><tspan dy="-3"> &amp; </tspan><tspan class="i">σ</tspan><tspan class="u" dy="3">d</tspan><tspan dy="-3"> &amp; </tspan><tspan class="i">μ</tspan><tspan class="u" dy="3">c</tspan><tspan dy="-3">)</tspan></text>
<text class="tb" x="1985" y="508" textLength="112">16.15 ± 18.61%</text><text class="tb" x="1985" y="535" textLength="112">20.93 ± 22.31%</text><text class="tb" x="1985" y="574" textLength="112">24.77 ± 27.04%</text><text class="tb" x="1985" y="601" textLength="112">27.02 ± 29.04%</text><text class="tb" x="1985" y="628" textLength="112">29.99 ± 32.33%</text>
<text class="tb" x="2117" y="508" textLength="96">2.42 ± 1.84%</text><text class="tb" x="2117" y="535" textLength="96">4.77 ± 3.80%</text><text class="tb" x="2117" y="574" textLength="96">2.90 ± 1.11%</text><text class="tb" x="2117" y="601" textLength="96">5.16 ± 3.22%</text><text class="tb" x="2117" y="628" textLength="96">7.05 ± 3.60%</text>
<text class="tb b" x="2247" y="508" textLength="98">1.32 ± 1.13%</text><text class="tb b" x="2247" y="535" textLength="98">1.81 ± 2.19%</text><text class="tb b" x="2245" y="574" textLength="97">1.51 ± 1.08%</text><text class="tb b" x="2247" y="601" textLength="98">3.32 ± 3.06%</text><text class="tb b" x="2247" y="628" textLength="98">3.29 ± 3.23%</text>
<text class="tb" x="2384" y="508" textLength="112">38.42 ± 17.78%</text><text class="tb" x="2388" y="535" textLength="104">33.08 ± 8.05%</text><text class="tb" x="2384" y="574" textLength="112">17.81 ± 10.26%</text><text class="tb" x="2388" y="601" textLength="104">50.19 ± 5.57%</text><text class="tb" x="2380" y="628" textLength="120">135.78 ± 17.12%</text>

<rect class="bx" x="1938" y="657" width="368" height="40" rx="8"/><text x="1948" y="683" font-size="25" textLength="334">Time-solution quality trade-off</text>
<text class="cap" x="1755" y="732" textLength="366">Distribution of different instances</text><text class="cap" x="2176" y="732" textLength="315">SDDP with/without neural init</text>

<!-- Plot A -->
<path class="g" d="M1793 752H2082M1793 777H2082M1793 802H2082M1793 828H2082M1793 853H2082M1793 879H2082M1793 904H2082M1793 930H2082M1862 751V937M1988 751V937"/>
<g stroke-linecap="round" fill="none" stroke-width="4.500">
<path stroke="#ff9896" d="M1814 761h0M1812 795h0M1813 797h0M1812 825h0M1813 829h0M1813 833h0M1820 828h0M1815 838h0M1820 842h0M1814 853h0M1820 852h0M1813 860h0M1814 866h0M1820 867h0M1813 873h0M1815 878h0M1820 880h0M1824 879h0M1814 888h0M1813 893h0M1815 896h0M1813 903h0M1820 903h0M1816 906h0M1812 910h0M1815 912h0M1814 928h0M1813 915h0"/>
<path stroke="#c49c94" d="M1859 766h0M1872 759h0M1903 765h0M1862 776h0M1869 772h0M1893 776h0M1883 780h0M1898 780h0M1910 779h0M1857 791h0M1859 793h0M1865 795h0M1891 798h0M1843 807h0M1858 806h0M1869 803h0M1867 813h0M1881 811h0M1886 815h0M1896 819h0M1908 823h0M1916 826h0M1859 824h0M1862 830h0M1868 828h0M1875 828h0M1865 837h0M1881 834h0M1855 844h0M1860 848h0M1868 848h0M1873 850h0M1883 850h0M1892 848h0M1863 853h0M1870 855h0M1846 868h0M1864 863h0M1873 857h0M1883 864h0M1870 878h0M1881 877h0"/>
<path stroke="#98df8a" d="M1902 832h0M1923 846h0M1904 849h0M1934 848h0M1886 858h0M1892 856h0M1898 859h0M1904 860h0M1910 862h0M1884 865h0M1890 868h0M1897 866h0M1903 869h0M1912 868h0M1880 872h0M1887 875h0M1893 873h0M1899 877h0M1906 875h0M1913 878h0M1920 874h0M1885 881h0M1892 884h0M1898 882h0M1905 885h0M1912 883h0M1919 881h0M1926 879h0M1934 881h0M1941 880h0M1884 889h0M1890 892h0M1897 890h0M1904 893h0M1911 888h0M1917 892h0M1867 892h0M1873 896h0M1895 900h0M1906 896h0M1921 889h0M1929 887h0M1901 874h0M1896 880h0M1888 886h0"/>
<path stroke="#f7b6d2" d="M1968 880h0M1920 892h0M1905 897h0M1909 903h0M1915 901h0M1922 898h0M1928 900h0M1934 897h0M1940 902h0M1906 908h0M1912 911h0M1918 906h0M1925 909h0M1931 905h0M1937 910h0M1944 906h0M1950 909h0M1956 905h0M1962 902h0M1906 914h0M1914 917h0M1922 914h0M1930 916h0M1938 918h0M1946 914h0M1953 917h0M1903 912h0M1899 913h0M1942 896h0M1960 910h0"/>
<path stroke="#ffbb78" d="M1947 909h0M1952 903h0M1958 906h0M1964 901h0M1970 905h0M1976 903h0M1982 906h0M1988 902h0M1994 905h0M2000 902h0M2006 908h0M2012 904h0M2021 901h0M1955 912h0M1961 916h0M1967 913h0M1973 917h0M1979 914h0M1985 918h0M1991 914h0M1997 917h0M2003 913h0M2009 916h0M1950 918h0M1958 921h0M1966 921h0M1974 922h0M1982 923h0M1990 921h0M1998 922h0"/>
<path stroke="#c7c7c7" d="M1985 923h0M1990 926h0M1996 918h0M2002 920h0M2006 923h0M2010 917h0M2014 920h0M2018 925h0M2022 919h0M2026 923h0M2030 927h0M2016 928h0M2008 927h0M2034 920h0M2038 922h0M2044 919h0M2050 926h0M2054 921h0M2060 924h0M2066 928h0M2069 912h0M2060 914h0M2048 916h0M2040 926h0M2030 918h0M2025 915h0"/>
<path stroke="#1f77b4" d="M1807 908h0M1810 920h0M1812 915h0M1814 917h0M1816 913h0M1818 916h0M1820 915h0M1822 917h0M1824 918h0M1826 920h0M1828 921h0M1810 923h0M1812 925h0M1814 922h0M1816 925h0M1818 921h0M1820 926h0M1822 923h0M1824 925h0M1826 924h0M1813 928h0M1816 929h0M1819 928h0M1822 929h0M1815 920h0M1819 919h0M1823 921h0M1811 919h0M1817 923h0M1821 920h0M1825 922h0"/>
</g>
<rect x="1793" y="751" width="289" height="186" fill="none" stroke="#444" stroke-width="1.3"/>
<path d="M1793 937v4M1862 937v5M1988 937v5M1810 937v3M1825 937v3M1838 937v3M1849 937v3M1900 937v3M1925 937v3M1945 937v3M1960 937v3M1975 937v3M2026 937v3M2050 937v3M2068 937v3" stroke="#444"/>
<g><text x="1768" y="756" font-size="11">1.75</text><text x="1768" y="781" font-size="11">1.50</text><text x="1768" y="806" font-size="11">1.25</text><text x="1768" y="832" font-size="11">1.00</text><text x="1768" y="857" font-size="11">0.75</text><text x="1768" y="883" font-size="11">0.50</text><text x="1768" y="908" font-size="11">0.25</text><text x="1768" y="934" font-size="11">0.00</text><text x="1854" y="950" font-size="11">10<tspan font-size="7" dy="-4">0</tspan></text><text x="1980" y="950" font-size="11">10<tspan font-size="7" dy="-4">1</tspan></text></g>
<text x="1906" y="969" font-size="20" textLength="63">Time (s)</text>
<text class="ax" transform="translate(1761,896) rotate(-90)" textLength="106">Relative Error</text>
<rect x="1938" y="769" width="90" height="100" rx="2" fill="#fff" fill-opacity=".85" stroke="#ddd"/>
<rect x="1941" y="773" width="20" height="7" fill="#c49c94"/><rect x="1941" y="787" width="20" height="7" fill="#98df8a"/><rect x="1941" y="801" width="20" height="7" fill="#f7b6d2"/><rect x="1941" y="815" width="20" height="7" fill="#ffbb78"/><rect x="1941" y="829" width="20" height="7" fill="#c7c7c7"/><rect x="1941" y="843" width="20" height="7" fill="#ff9896"/><rect x="1941" y="857" width="20" height="7" fill="#1f77b4"/>
<text font-size="10.500" x="1968" y="780" textLength="36">SDDP-2</text><text font-size="10.500" x="1968" y="794" textLength="36">SDDP-4</text><text font-size="10.500" x="1968" y="808" textLength="36">SDDP-8</text><text font-size="10.500" x="1968" y="822" textLength="42">SDDP-16</text><text font-size="10.500" x="1968" y="836" textLength="42">SDDP-32</text><text font-size="10.500" x="1968" y="850" textLength="57">SDDP-mean</text><text font-size="10.500" x="1968" y="864" textLength="56">ν-SDDP-fast</text>

<!-- Plot B -->
<path class="g" d="M2200 751H2497M2200 883H2497M2208 745V938M2243 745V938M2277 745V938M2313 745V938M2347 745V938M2382 745V938M2417 745V938M2452 745V938M2487 745V938"/>
<path d="M2227 754L2240 791L2269 831L2300 846L2334 857L2369 865.500L2406 872L2444 885L2484 888" fill="none" stroke="#ffbb78" stroke-width="2.500"/>
<g fill="#ffbb78"><circle cx="2227" cy="754" r="5"/><circle cx="2240" cy="791" r="5"/><circle cx="2269" cy="831" r="5"/><circle cx="2300" cy="846" r="5"/><circle cx="2334" cy="857" r="5"/><circle cx="2369" cy="865.500" r="5"/><circle cx="2406" cy="872" r="5"/><circle cx="2444" cy="885" r="5"/><circle cx="2484" cy="888" r="5"/></g>
<path d="M2218 909L2228 917L2239 923L2249 925L2261 927L2272 929L2283 929L2295 930L2306 930L2318 930" fill="none" stroke="#f7b6d2" stroke-width="2.500"/>
<g fill="#f7b6d2"><circle cx="2218" cy="909" r="5"/><circle cx="2228" cy="917" r="5"/><circle cx="2239" cy="923" r="5"/><circle cx="2249" cy="925" r="5"/><circle cx="2261" cy="927" r="5"/><circle cx="2272" cy="929" r="5"/><circle cx="2283" cy="929" r="5"/><circle cx="2295" cy="930" r="5"/><circle cx="2306" cy="930" r="5"/><circle cx="2318" cy="930" r="5"/></g>
<circle cx="2214" cy="902" r="4.500" fill="#1f77b4"/>
<rect x="2200" y="745" width="297" height="193" fill="none" stroke="#444" stroke-width="1.300"/>
<text x="2169" y="757" font-size="20" textLength="20">10</text><text x="2189" y="749" font-size="13">2</text><text x="2169" y="889" font-size="20" textLength="20">10</text><text x="2189" y="881" font-size="13">1</text>
<g><text font-size="16" x="2197" y="956" textLength="22">0.0</text><text font-size="16" x="2232" y="956" textLength="22">2.5</text><text font-size="16" x="2266" y="956" textLength="22">5.0</text><text font-size="16" x="2302" y="956" textLength="22">7.5</text><text font-size="16" x="2332" y="956" textLength="31">10.0</text><text font-size="16" x="2367" y="956" textLength="31">12.5</text><text font-size="16" x="2402" y="956" textLength="31">15.0</text><text font-size="16" x="2437" y="956" textLength="31">17.5</text><text font-size="16" x="2472" y="956" textLength="31">20.0</text></g>
<text x="2313" y="976" font-size="21" textLength="72">Time (s)</text>
<text class="ax" transform="translate(2162,897) rotate(-90)" textLength="112">Error ratio/%</text>
<rect x="2386" y="750" width="107" height="41" rx="2" fill="#fff" fill-opacity=".85" stroke="#ddd"/>
<path d="M2388 757H2408" stroke="#f7b6d2" stroke-width="2"/><circle cx="2398" cy="757" r="4.500" fill="#f7b6d2"/><path d="M2388 770H2408" stroke="#1f77b4" stroke-width="2"/><circle cx="2398" cy="770" r="4.500" fill="#1f77b4"/><path d="M2388 783H2408" stroke="#ffbb78" stroke-width="2"/><circle cx="2398" cy="783" r="4.500" fill="#ffbb78"/>
<text font-size="10" x="2414" y="761" textLength="75">ν-SDDP-accurate</text><text font-size="10" x="2414" y="774" textLength="53">ν-SDDP-fast</text><text font-size="10" x="2414" y="787" textLength="24">SDDP</text>

<rect class="bx" x="1954" y="980" width="346" height="40" rx="8"/><text x="1964" y="1007" font-size="25" textLength="319">Efficiency v.s. quality ablation</text>
<text x="1783" y="1051" font-size="25" textLength="292"># cutting planes generated</text><text x="2147" y="1050" font-size="25" textLength="347">Dimensionality of cutting planes</text>

<!-- Plot C -->
<path class="g" d="M1808 1074H2086M1808 1096H2086M1808 1118H2086M1808 1139H2086M1808 1161H2086M1808 1183H2086M1808 1205H2086M1808 1226H2086M1808 1248H2086M1815 1069V1250M1866 1069V1250M1917 1069V1250M1968 1069V1250M2019 1069V1250M2070 1069V1250"/>
<path d="M1820 1076L1825 1178L1836 1188L1843 1209L1856 1237L1897 1240L1978 1242L2073 1230" fill="none" stroke="#1f77b4" stroke-width="2"/>
<rect x="1808" y="1069" width="278" height="181" fill="none" stroke="#444" stroke-width="1.300"/>
<g text-anchor="end"><text font-size="16" x="1801" y="1080">200</text><text font-size="16" x="1801" y="1102">175</text><text font-size="16" x="1801" y="1124">150</text><text font-size="16" x="1801" y="1145">125</text><text font-size="16" x="1801" y="1167">100</text><text font-size="16" x="1801" y="1189">75</text><text font-size="16" x="1801" y="1211">50</text><text font-size="16" x="1801" y="1232">25</text><text font-size="16" x="1801" y="1254">0</text></g>
<g text-anchor="middle"><text font-size="16" x="1815" y="1266">0</text><text font-size="16" x="1866" y="1266">20</text><text font-size="16" x="1917" y="1266">40</text><text font-size="16" x="1968" y="1266">60</text><text font-size="16" x="2019" y="1266">80</text><text font-size="16" x="2070" y="1266">100</text></g>
<text x="1834" y="1285" font-size="18.500" textLength="228"># generated cutting planes</text>
<text class="ax" transform="translate(1769,1211) rotate(-90)" textLength="104">Error ratio/%</text>

<!-- Plot D -->
<path class="g" d="M2204 1087H2474M2204 1113H2474M2204 1139H2474M2204 1165H2474M2204 1192H2474M2204 1218H2474M2204 1244H2474M2217 1076V1251M2264 1076V1251M2312 1076V1251M2359 1076V1251M2406 1076V1251M2453 1076V1251"/>
<path d="M2204 1212H2472" stroke="#ff9896" stroke-width="1.500" stroke-dasharray="9 3 2 3"/>
<path d="M2217 1083L2245 1239L2272 1242L2329 1241L2359 1243L2391 1242L2463 1243" fill="none" stroke="#1f77b4" stroke-width="2"/>
<rect x="2204" y="1076" width="270" height="175" fill="none" stroke="#444" stroke-width="1.300"/>
<g text-anchor="end"><text font-size="16" x="2198" y="1093">60</text><text font-size="16" x="2198" y="1119">50</text><text font-size="16" x="2198" y="1145">40</text><text font-size="16" x="2198" y="1171">30</text><text font-size="16" x="2198" y="1198">20</text><text font-size="16" x="2198" y="1224">10</text><text font-size="16" x="2198" y="1250">0</text></g>
<g text-anchor="middle"><text font-size="16" x="2217" y="1267">50</text><text font-size="16" x="2264" y="1267">100</text><text font-size="16" x="2312" y="1267">150</text><text font-size="16" x="2359" y="1267">200</text><text font-size="16" x="2406" y="1267">250</text><text font-size="16" x="2453" y="1267">300</text></g>
<text x="2183" y="1285" font-size="18.500" textLength="314">Dimension of generated cutting planes</text>
<text class="ax" transform="translate(2176,1213) rotate(-90)" textLength="101">Error ratio/%</text>
<rect x="2345" y="1082" width="123" height="42" rx="2" fill="#fff" fill-opacity=".85" stroke="#ddd"/>
<path d="M2349 1093H2377" stroke="#1f77b4" stroke-width="2"/><path d="M2349 1112H2377" stroke="#ff9896" stroke-width="1.500" stroke-dasharray="9 3 2 3"/>
<text font-size="14" x="2387" y="1098" textLength="76">ν-SDDP-fast</text><text font-size="14" x="2387" y="1117" textLength="76">SDDP-mean</text>

<!-- Portfolio -->
<text x="1744" y="1352" font-size="29" textLength="574">Portfolio optimization with synthetic variance</text><path d="M1744 1355H2318" stroke="#000" stroke-width="2"/>
<path d="M1745 1390H2509M1745 1533H2509" stroke="#111" stroke-width="2.200"/><path d="M1745 1423H2509M1745 1449H2509M1745 1475H2509M1745 1502H2509" stroke="#333" stroke-width="1.300"/><path d="M2061 1398V1528" stroke="#333" stroke-width="1.200"/>
<text class="tc" x="2108" y="1415" textLength="113">SDDP-mean</text><text class="tc" x="2307" y="1415" textLength="163"><tspan class="i">ν</tspan>-SDDP-zeroshot</text>
<text class="tc" x="1766" y="1441" textLength="274">5 stocks (STD scaled by 0.01)</text><text class="tc" x="1760" y="1467" textLength="285">5 stocks (STD scaled by 0.001)</text><text class="tc" x="1766" y="1494" textLength="275">8 clusters (STD scaled by 0.1)</text><text class="tc" x="1760" y="1520" textLength="286">8 clusters (STD scaled by 0.01)</text>
<text class="tc" x="2074" y="1441" textLength="180">290.05 ± 221.92 %</text><text class="tc" x="2074" y="1467" textLength="180">271.65 ± 221.13 %</text><text class="tc" x="2086" y="1494" textLength="157">69.18 ± 77.47 %</text><text class="tc" x="2086" y="1520" textLength="157">65.81 ± 77.33 %</text>
<text class="tc b" x="2319" y="1441" textLength="135">1.72 ± 4.39 %</text><text class="tc b" x="2319" y="1467" textLength="135">1.84 ± 3.67 %</text>
<text class="tc b" x="2282" y="1494" textLength="212">1.43e<tspan class="u" dy="-8">−6</tspan><tspan dy="8"> ± 4.30e</tspan><tspan class="u" dy="-8">−5</tspan><tspan dy="8">%</tspan></text><text class="tc b" x="2282" y="1520" textLength="212">3.25e<tspan class="u" dy="-8">−6</tspan><tspan dy="8"> ± 3.44e</tspan><tspan class="u" dy="-8">−5</tspan><tspan dy="8">%</tspan></text>
<text x="1747" y="1583" font-size="29" textLength="162">Source code</text><path d="M1747 1586H1909" stroke="#000" stroke-width="2"/>
<text x="1754" y="1624" font-size="20" textLength="714" style="fill:#4472c4">https://github.com/google-research/google-research/tree/master/neural_sddp</text><path d="M1754 1627H2468" stroke="#4472c4" stroke-width="1.500"/>
</svg>
<script>document.querySelectorAll('text[textLength]').forEach(function(t){t.setAttribute('lengthAdjust','spacingAndGlyphs')});</script>
</body></html>
